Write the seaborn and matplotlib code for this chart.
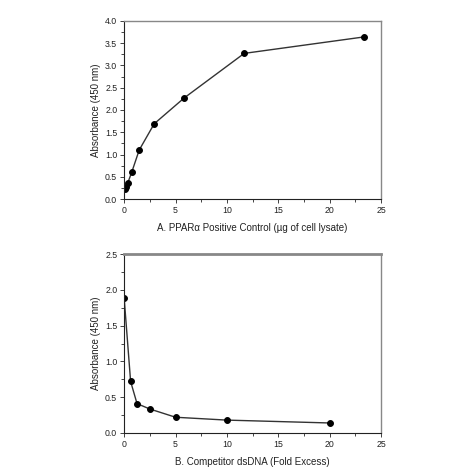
import matplotlib
matplotlib.use("Agg")
import matplotlib.pyplot as plt
from matplotlib.ticker import MultipleLocator
import seaborn as sns
import pandas as pd

# panel A: positive control titration
lysate_ug = [0.09, 0.18, 0.36, 0.73, 1.46, 2.92, 5.84, 11.68, 23.36]
abs_a = [0.23, 0.28, 0.37, 0.60, 1.10, 1.69, 2.27, 3.27, 3.64]

# panel B: competitor dsDNA
fold_excess = [0, 0.625, 1.25, 2.5, 5, 10, 20]
abs_b = [1.88, 0.72, 0.41, 0.335, 0.22, 0.18, 0.14]

sns.set_style("ticks")
plt.rcParams['font.family'] = ['Liberation Sans', 'DejaVu Sans']

fig = plt.figure(figsize=(4.74, 4.74), dpi=100)
ax1 = fig.add_axes([0.262, 0.580, 0.542, 0.376])
ax2 = fig.add_axes([0.262, 0.0865, 0.542, 0.3776])

df_a = pd.DataFrame({'x': lysate_ug, 'y': abs_a})
df_b = pd.DataFrame({'x': fold_excess, 'y': abs_b})

for ax, df, ymax, xlab in [
    (ax1, df_a, 4.0, "A. PPARα Positive Control (µg of cell lysate)"),
    (ax2, df_b, 2.5, "B. Competitor dsDNA (Fold Excess)"),
]:
    sns.lineplot(data=df, x='x', y='y', ax=ax, color='#333333', linewidth=1.0,
                 marker='o', markersize=4.2, markerfacecolor='black',
                 markeredgecolor='black', sort=False)
    ax.set_xlim(0, 25)
    ax.set_ylim(0, ymax)
    ax.xaxis.set_major_locator(MultipleLocator(5))
    ax.xaxis.set_minor_locator(MultipleLocator(2.5))
    ax.yaxis.set_major_locator(MultipleLocator(0.5))
    ax.yaxis.set_minor_locator(MultipleLocator(0.25))
    ax.set_yticklabels([f"{v:.1f}" for v in ax.get_yticks()])
    ax.tick_params(axis='both', which='major', labelsize=6.3, length=3, width=0.6,
                   colors='#222222', pad=2)
    ax.tick_params(axis='both', which='minor', length=2, width=0.6)
    for s in ['left', 'bottom']:
        ax.spines[s].set_color('#222222')
        ax.spines[s].set_linewidth(0.8)
    for s in ['top', 'right']:
        ax.spines[s].set_visible(True)
        ax.spines[s].set_color('#888888')
        ax.spines[s].set_linewidth(1.0)
    ax.set_xlabel(xlab, fontsize=7, color='#222222', labelpad=6)
    ax.set_ylabel("Absorbance (450 nm)", fontsize=7, color='#222222', labelpad=3)

ax2.spines['top'].set_linewidth(2.0)

fig.savefig("out.png", dpi=100)
